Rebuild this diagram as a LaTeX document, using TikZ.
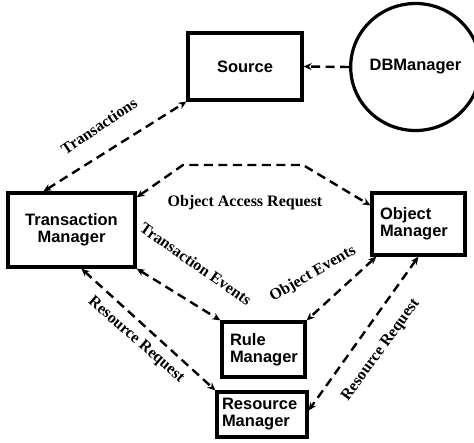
\documentclass[tikz,border=0pt]{standalone}
\usepackage{fontspec}
\setmainfont{Liberation Serif}
\setsansfont{Liberation Sans}
\usetikzlibrary{shapes.geometric,arrows.meta}

\begin{document}
\begin{tikzpicture}[x=1pt,y=-1pt,
    box/.style={draw,line width=3.2pt,inner sep=0pt,
      font=\sffamily\bfseries\fontsize{16.5}{17}\selectfont},
    lbox/.style={box,align=left,inner xsep=8pt},
    flow/.style={line width=2.4pt,dash pattern=on 9pt off 5.5pt,
      {Stealth[length=8pt,width=7pt]}-{Stealth[length=8pt,width=7pt]}},
    lbl/.style={font=\bfseries\fontsize{16}{17}\selectfont,inner sep=0pt}]
  \useasboundingbox (0,0) rectangle (474,443);

  % boxes
  \node[box,minimum width=114pt,minimum height=67pt] (source) at (245,66.5) {Source};
  \node[box,ellipse,minimum width=111pt,minimum height=127pt] (dbm) at (415.5,67) {DBManager};
  \node[box,align=center,minimum width=127pt,minimum height=74pt] (tm) at (71.5,230) {Transaction\\Manager};
  \node[lbox,text width=77pt,minimum height=62pt] (om) at (418.5,224) {Object\\Manager};
  \node[lbox,text width=67pt,minimum height=55pt] (rm) at (263.5,349.5) {Rule\\Manager};
  \node[lbox,inner xsep=5pt,text width=80pt,minimum height=45pt] (res) at (262,414.5) {Resource\\Manager};

  % connectors
  \draw[flow,-{Stealth[length=8pt,width=7pt]}] (dbm.west) -- (source.east);
  \draw[flow] ([xshift=37pt]tm.north west) -- (source.south west);
  \draw[flow] ([yshift=-6pt]tm.north east) -- (183,165) -- (303,165) -- ([yshift=-14pt]om.north west);
  \draw[flow] (tm.south east) -- (rm.north west);
  \draw[flow] ([xshift=6pt]om.south west) -- (rm.north east);
  \draw[flow] ([xshift=75pt]tm.south west) -- (res.north west);
  \draw[flow] ([xshift=48pt]om.south west) -- ([yshift=4pt]res.east);

  % labels
  \node[lbl,rotate=34] (ltr) at (99,126) {Transactions};
  \node[lbl] (loar) at (245,203) {Object Access Request};
  \node[lbl,rotate=-35] (lte) at (196,264) {Transaction Events};
  \node[lbl,rotate=30] (loe) at (313,274) {Object Events};
  \node[lbl,rotate=-41] (lrr) at (136,340) {Resource Request};
  \node[lbl,rotate=54] (lrr2) at (381,350) {Resource Request};
\end{tikzpicture}
\end{document}
